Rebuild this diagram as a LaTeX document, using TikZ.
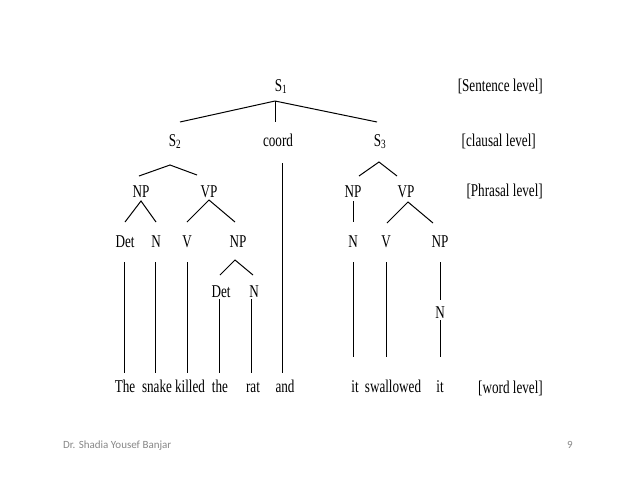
\documentclass[tikz,border=0pt]{standalone}
\usepackage{fontspec}
\usetikzlibrary{calc}
\setmainfont{Liberation Serif}
\newfontfamily\treefont[FakeStretch=0.73]{Liberation Serif}
\newfontfamily\footfont{Carlito}
\definecolor{footgray}{RGB}{135,135,135}
\begin{document}
\begin{tikzpicture}[x=1pt,y=-1pt,
  lab/.style={inner sep=0pt,anchor=base,font=\treefont\fontsize{18}{20}\selectfont},
  lex/.style={line width=1pt},
  foot/.style={inner sep=0pt,anchor=base,font=\footfont\fontsize{11}{13}\selectfont,text=footgray}]
\useasboundingbox (0,0) rectangle (638,493);
% nodes (base line = centre + 5)
\node[lab] (S1) at (281,91) {S\textsubscript{1}};
\node[lab] (S2) at (175,146) {S\textsubscript{2}};
\node[lab] (co) at (278,146) {coord};
\node[lab] (S3) at (380,146) {S\textsubscript{3}};
\node[lab] (NPa) at (141,197) {NP};
\node[lab] (VPa) at (209,197) {VP};
\node[lab] (NPb) at (353,197) {NP};
\node[lab] (VPb) at (406,197) {VP};
\node[lab] (Deta) at (125,247) {Det};
\node[lab] (Na) at (156,247) {N};
\node[lab] (Va) at (187,247) {V};
\node[lab] (NPc) at (238,247) {NP};
\node[lab] (Nb) at (353,247) {N};
\node[lab] (Vb) at (386,247) {V};
\node[lab] (NPd) at (440,247) {NP};
\node[lab] (Detb) at (221,297) {Det};
\node[lab] (Nc) at (254,297) {N};
\node[lab] (Nd) at (440,318) {N};
% words
\node[lab] (w1) at (125,392) {The};
\node[lab] (w2) at (157,392) {snake};
\node[lab] (w3) at (190,392) {killed};
\node[lab] (w4) at (220,392) {the};
\node[lab] (w5) at (253,392) {rat};
\node[lab] (w6) at (285,392) {and};
\node[lab] (w7) at (355,392) {it};
\node[lab] (w8) at (393,392) {swallowed};
\node[lab] (w9) at (440,392) {it};
% level labels
\node[lab,anchor=base east] (L1) at (543,91) {[Sentence level]};
\node[lab,anchor=base east] (L2) at (536,146) {[clausal level]};
\node[lab,anchor=base east] (L3) at (543,196) {[Phrasal level]};
\node[lab,anchor=base east] (L4) at (543,393) {[word level]};
% footer
\node[foot,anchor=base west] (F1) at (63,448) {Dr. Shadia Yousef Banjar};
\node[foot] (F2) at (570,448) {9};
% S1 branches
\coordinate (a1) at ($(S1.base)+(-6,10)$);
\draw[lex] (a1) -- ($(S2.base)+(5,-24)$);
\draw[lex] (a1) -- ($(a1 |- co.base)+(0,-24)$);
\draw[lex] (a1) -- ($(S3.base)+(-3,-24)$);
% S2 branches
\coordinate (a2) at ($(S2.base)+(-5,19)$);
\draw[lex] ($(NPa.base)+(-2,-21)$) -- (a2) -- ($(VPa.base)+(-12,-22)$);
\coordinate (a3) at ($(NPa.base)+(0,4)$);
\draw[lex] ($(Deta.base)+(0,-25)$) -- (a3) -- ($(Na.base)+(0,-25)$);
\coordinate (a4) at ($(VPa.base)+(0,3)$);
\draw[lex] ($(Va.base)+(0,-25)$) -- (a4) -- ($(NPc.base)+(-3,-25)$);
\coordinate (a5) at ($(NPc.base)+(-3,13)$);
\draw[lex] ($(Detb.base)+(-1,-22)$) -- (a5) -- ($(Nc.base)+(-1,-22)$);
% coord line
\coordinate (c1) at ($(co.base)+(4,17)$);
\draw[lex] (c1) -- ($(c1 |- w6.base)+(0,-19)$);
% lexical lines left
\coordinate (l1) at ($(Deta.base)+(-1,15)$);
\draw[lex] (l1) -- ($(l1 |- w1.base)+(0,-19)$);
\coordinate (l2) at ($(Na.base)+(-1,15)$);
\draw[lex] (l2) -- ($(l2 |- w2.base)+(0,-19)$);
\coordinate (l3) at ($(Va.base)+(0,15)$);
\draw[lex] (l3) -- ($(l3 |- w3.base)+(0,-19)$);
\coordinate (l4) at ($(Detb.base)+(-2,2)$);
\draw[lex] (l4) -- ($(l4 |- w4.base)+(0,-19)$);
\coordinate (l5) at ($(Nc.base)+(-3,2)$);
\draw[lex] (l5) -- ($(l5 |- w5.base)+(0,-19)$);
% S3 branches
\coordinate (b1) at ($(S3.base)+(-1,16)$);
\draw[lex] ($(NPb.base)+(6,-21)$) -- (b1) -- ($(VPb.base)+(-9,-21)$);
\draw[lex] ($(NPb.base)+(0,4)$) -- ($(Nb.base)+(0,-25)$);
\coordinate (b2) at ($(VPb.base)+(2,5)$);
\draw[lex] ($(Vb.base)+(1,-24)$) -- (b2) -- ($(NPd.base)+(-7,-24)$);
\coordinate (r1) at ($(Nb.base)+(0,15)$);
\draw[lex] (r1) -- ($(r1 |- w7.base)+(0,-35)$);
\coordinate (r2) at ($(Vb.base)+(0,15)$);
\draw[lex] (r2) -- ($(r2 |- w8.base)+(0,-35)$);
\draw[lex] ($(NPd.base)+(0,15)$) -- ($(Nd.base)+(0,-18)$);
\coordinate (r3) at ($(Nd.base)+(0,2)$);
\draw[lex] (r3) -- ($(r3 |- w9.base)+(0,-35)$);
\end{tikzpicture}
\end{document}
